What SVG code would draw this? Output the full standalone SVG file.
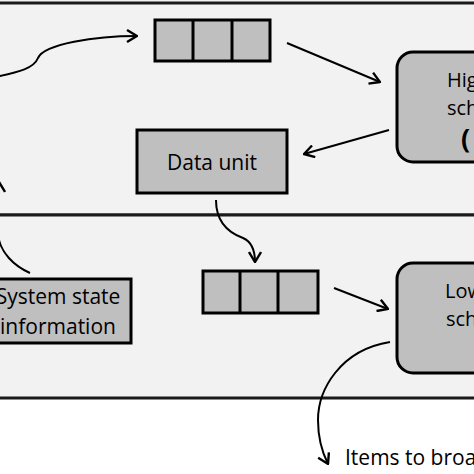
<svg xmlns="http://www.w3.org/2000/svg" width="474" height="474" viewBox="0 0 474 474">
<defs>
<marker id="ah" viewBox="0 0 12 14" refX="11" refY="7" markerWidth="12" markerHeight="14" orient="auto" markerUnits="userSpaceOnUse">
<path d="M1,1 L11,7 L1,13" fill="none" stroke="#000" stroke-width="2.4" stroke-linejoin="miter"/>
</marker>
</defs>
<style>
.box{fill:#bfbfbf;stroke:#000;stroke-width:3}
.lbl{font-family:"Open Sans","DejaVu Sans",sans-serif;font-size:20px;fill:#000}
.con{fill:none;stroke:#000;stroke-width:2;marker-end:url(#ah)}
.frame{fill:#f2f2f2;stroke:#1a1a1a;stroke-width:3}
</style>
<rect x="0" y="0" width="474" height="474" fill="#ffffff"/>
<rect x="0" y="0" width="474" height="3" fill="#f2f2f2"/>
<g id="frame">
<rect class="frame" x="-10" y="3" width="494" height="212"/>
<rect class="frame" x="-10" y="215" width="494" height="183"/>
</g>
<g id="queue-top">
<rect class="box" x="155" y="20" width="115" height="41"/>
<line x1="193" y1="20" x2="193" y2="61" stroke="#000" stroke-width="3"/>
<line x1="232" y1="20" x2="232" y2="61" stroke="#000" stroke-width="3"/>
</g>
<g id="data-unit">
<rect class="box" x="137" y="130" width="150" height="63"/>
<text class="lbl" x="212" y="170" text-anchor="middle" style="font-size:21px">Data unit</text>
</g>
<g id="high-scheduler">
<rect class="box" x="397" y="52" width="100" height="110" rx="16" ry="16"/>
<text class="lbl" x="447" y="87">Hig</text>
<text class="lbl" x="447" y="115">sch</text>
<text class="lbl" x="461" y="148" style="font-size:27px;font-weight:bold">(</text>
</g>
<g id="queue-bottom">
<rect class="box" x="203" y="271" width="115" height="42"/>
<line x1="240" y1="271" x2="240" y2="313" stroke="#000" stroke-width="3"/>
<line x1="278" y1="271" x2="278" y2="313" stroke="#000" stroke-width="3"/>
</g>
<g id="low-scheduler">
<rect class="box" x="397" y="263" width="100" height="110" rx="16" ry="16"/>
<text class="lbl" x="445" y="298">Low</text>
<text class="lbl" x="446" y="326">sch</text>
</g>
<g id="system-state">
<rect class="box" x="-15" y="279" width="146" height="64"/>
<text class="lbl" x="58" y="304" text-anchor="middle" style="font-size:21px">System state</text>
<text class="lbl" x="58" y="334" text-anchor="middle" style="font-size:21px">information</text>
</g>
<g id="items">
<text class="lbl" x="345" y="465" style="font-size:21px">Items to broa</text>
</g>
<g id="connectors">
<path class="con" d="M -5,77 C 20,72 34,68 38,58 C 44,44 95,36 137,36"/>
<path class="con" d="M 287,43 L 380,82"/>
<path class="con" d="M 389,130 L 304,154"/>
<path class="con" d="M 216,200 C 216,225 232,234 243,238 C 252,242 255,250 255,262"/>
<path class="con" d="M 334,288 L 388,309"/>
<path class="con" d="M 390,342 C 340,350 318,390 318,420 C 318,440 322,452 328,464"/>
<path class="con" d="M 30,273 C 12,265 2,252 -1,240 L -1,182"/>
</g>
</svg>
